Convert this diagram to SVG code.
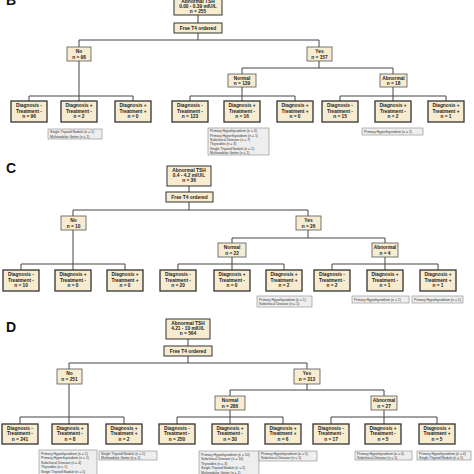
<svg xmlns="http://www.w3.org/2000/svg" width="474" height="474" viewBox="0 0 474 474">
<style>
.b{fill:#f7ecd0;stroke:#333;stroke-width:1.3}
.r{fill:#f7ecd0;stroke:#333;stroke-width:1}
.s{fill:#f7ecd0;stroke:#555;stroke-width:0.8}
.n{fill:#eeeeee;stroke:#888;stroke-width:0.6}
.t{font-family:"Liberation Sans",Arial,sans-serif;font-size:4.8px;font-weight:bold;text-anchor:middle;fill:#222}
.nt{font-family:"Liberation Sans",Arial,sans-serif;font-size:3.4px;fill:#333}
.lbl{font-family:"Liberation Sans",Arial,sans-serif;font-size:14px;font-weight:bold;fill:#111}
.c{stroke:#444;stroke-width:1;fill:none}
</style>
<rect width="474" height="474" fill="#fff"/>
<g id="connectors">
<path class="c" d="M198,15V23M198,33V40M79,40H319M79,40V47M319,40V47M79,61V101M29,96H133M29,96V101M133,96V101M319,61V68M242,68H393M242,68V74M393,68V74M242,87V101M190,96H295M190,96V101M295,96V101M393,87V101M340,96H446M340,96V101M446,96V101"/>
<path class="c" d="M189,186V192M189,202V210M73,210H308M73,210V216M308,210V216M73,230V270M21,264H125M21,264V270M125,264V270M308,230V238M232,238H385M232,238V243M385,238V243M232,257V270M178,264H284M178,264V270M284,264V270M385,257V270M332,264H438M332,264V270M438,264V270"/>
<path class="c" d="M188,339V346M188,356V363M69,363H307M69,363V369M307,363V369M69,384V424M20,417H124M20,417V424M124,417V424M307,384V390M230,390H384M230,390V396M384,390V396M230,410V424M177,417H283M177,417V424M283,417V424M384,410V424M331,417H437M331,417V424M437,417V424"/>
</g>
<g id="labels">
<text class="lbl" x="6" y="5">B</text>
<text class="lbl" x="6" y="173">C</text>
<text class="lbl" x="6" y="332">D</text>
</g>
<!-- Section B -->
<g id="B-root"><rect class="r" x="174" y="-5" width="48" height="20"/><text class="t" x="198" y="2.5">Abnormal TSH</text><text class="t" x="198" y="7.8">0.00 - 0.39 mIU/L</text><text class="t" x="198" y="13">n = 255</text></g>
<g id="B-ft4"><rect class="r" x="174" y="23" width="48" height="10"/><text class="t" x="198" y="29.8">Free T4 ordered</text></g>
<g id="B-no"><rect class="s" x="67" y="47" width="24" height="14"/><text class="t" x="79" y="53">No</text><text class="t" x="79" y="58.5">n = 98</text></g>
<g id="B-yes"><rect class="s" x="307" y="47" width="25" height="14"/><text class="t" x="319.5" y="53">Yes</text><text class="t" x="319.5" y="58.5">n = 157</text></g>
<g id="B-normal"><rect class="s" x="228" y="74" width="28" height="13"/><text class="t" x="242" y="79.5">Normal</text><text class="t" x="242" y="85">n = 139</text></g>
<g id="B-abnormal"><rect class="s" x="380" y="74" width="27" height="13"/><text class="t" x="393.5" y="79.5">Abnormal</text><text class="t" x="393.5" y="85">n = 18</text></g>
<g id="B-l1"><rect class="b" x="11" y="101" width="36" height="21"/><text class="t" x="29" y="107.3">Diagnosis -</text><text class="t" x="29" y="112.8">Treatment -</text><text class="t" x="29" y="118.4">n = 96</text></g>
<g id="B-l2"><rect class="b" x="61" y="101" width="36" height="21"/><text class="t" x="79" y="107.3">Diagnosis +</text><text class="t" x="79" y="112.8">Treatment -</text><text class="t" x="79" y="118.4">n = 2</text></g>
<g id="B-l3"><rect class="b" x="115" y="101" width="36" height="21"/><text class="t" x="133" y="107.3">Diagnosis +</text><text class="t" x="133" y="112.8">Treatment +</text><text class="t" x="133" y="118.4">n = 0</text></g>
<g id="B-l4"><rect class="b" x="172" y="101" width="36" height="21"/><text class="t" x="190" y="107.3">Diagnosis -</text><text class="t" x="190" y="112.8">Treatment -</text><text class="t" x="190" y="118.4">n = 123</text></g>
<g id="B-l5"><rect class="b" x="224" y="101" width="36" height="21"/><text class="t" x="242" y="107.3">Diagnosis +</text><text class="t" x="242" y="112.8">Treatment -</text><text class="t" x="242" y="118.4">n = 16</text></g>
<g id="B-l6"><rect class="b" x="277" y="101" width="36" height="21"/><text class="t" x="295" y="107.3">Diagnosis +</text><text class="t" x="295" y="112.8">Treatment +</text><text class="t" x="295" y="118.4">n = 0</text></g>
<g id="B-l7"><rect class="b" x="322" y="101" width="36" height="21"/><text class="t" x="340" y="107.3">Diagnosis -</text><text class="t" x="340" y="112.8">Treatment -</text><text class="t" x="340" y="118.4">n = 15</text></g>
<g id="B-l8"><rect class="b" x="375" y="101" width="36" height="21"/><text class="t" x="393" y="107.3">Diagnosis +</text><text class="t" x="393" y="112.8">Treatment -</text><text class="t" x="393" y="118.4">n = 2</text></g>
<g id="B-l9"><rect class="b" x="428" y="101" width="36" height="21"/><text class="t" x="446" y="107.3">Diagnosis +</text><text class="t" x="446" y="112.8">Treatment +</text><text class="t" x="446" y="118.4">n = 1</text></g>
<g id="B-n1"><rect class="n" x="48" y="129" width="54" height="10"/><text class="nt" x="50" y="133.3">Single Thyroid Nodule (n = 1)</text><text class="nt" x="50" y="137.6">Multinodular Goiter (n = 1)</text></g>
<g id="B-n2"><rect class="n" x="208" y="128" width="61" height="27"/><text class="nt" x="210" y="132.3">Primary Hypothyroidism (n = 3)</text><text class="nt" x="210" y="136.6">Primary Hyperthyroidism (n = 1)</text><text class="nt" x="210" y="140.9">Subclinical Disease (n = 7)</text><text class="nt" x="210" y="145.2">Thyroiditis (n = 3)</text><text class="nt" x="210" y="149.5">Single Thyroid Nodule (n = 1)</text><text class="nt" x="210" y="153.8">Multinodular Goiter (n = 1)</text></g>
<g id="B-n3"><rect class="n" x="362" y="128" width="61" height="7"/><text class="nt" x="364" y="132.6">Primary Hyperthyroidism (n = 2)</text></g>
<!-- Section C -->
<g id="C-root"><rect class="r" x="167" y="166" width="44" height="20"/><text class="t" x="189" y="171.7">Abnormal TSH</text><text class="t" x="189" y="176.9">0.4 - 4.2 mIU/L</text><text class="t" x="189" y="182.1">n = 36</text></g>
<g id="C-ft4"><rect class="r" x="166" y="192" width="47" height="10"/><text class="t" x="189.5" y="198.8">Free T4 ordered</text></g>
<g id="C-no"><rect class="s" x="61" y="216" width="25" height="14"/><text class="t" x="73.5" y="222">No</text><text class="t" x="73.5" y="227.5">n = 10</text></g>
<g id="C-yes"><rect class="s" x="296" y="216" width="25" height="14"/><text class="t" x="308.5" y="222">Yes</text><text class="t" x="308.5" y="227.5">n = 26</text></g>
<g id="C-normal"><rect class="s" x="218" y="243" width="28" height="14"/><text class="t" x="232" y="249">Normal</text><text class="t" x="232" y="254.5">n = 22</text></g>
<g id="C-abnormal"><rect class="s" x="372" y="243" width="26" height="14"/><text class="t" x="385" y="249">Abnormal</text><text class="t" x="385" y="254.5">n = 4</text></g>
<g id="C-l1"><rect class="b" x="3" y="270" width="36" height="21"/><text class="t" x="21" y="276.3">Diagnosis -</text><text class="t" x="21" y="281.8">Treatment -</text><text class="t" x="21" y="287.4">n = 10</text></g>
<g id="C-l2"><rect class="b" x="55" y="270" width="36" height="21"/><text class="t" x="73" y="276.3">Diagnosis +</text><text class="t" x="73" y="281.8">Treatment -</text><text class="t" x="73" y="287.4">n = 0</text></g>
<g id="C-l3"><rect class="b" x="107" y="270" width="36" height="21"/><text class="t" x="125" y="276.3">Diagnosis +</text><text class="t" x="125" y="281.8">Treatment +</text><text class="t" x="125" y="287.4">n = 0</text></g>
<g id="C-l4"><rect class="b" x="160" y="270" width="36" height="21"/><text class="t" x="178" y="276.3">Diagnosis -</text><text class="t" x="178" y="281.8">Treatment -</text><text class="t" x="178" y="287.4">n = 20</text></g>
<g id="C-l5"><rect class="b" x="214" y="270" width="36" height="21"/><text class="t" x="232" y="276.3">Diagnosis +</text><text class="t" x="232" y="281.8">Treatment -</text><text class="t" x="232" y="287.4">n = 0</text></g>
<g id="C-l6"><rect class="b" x="266" y="270" width="36" height="21"/><text class="t" x="284" y="276.3">Diagnosis +</text><text class="t" x="284" y="281.8">Treatment +</text><text class="t" x="284" y="287.4">n = 2</text></g>
<g id="C-l7"><rect class="b" x="314" y="270" width="36" height="21"/><text class="t" x="332" y="276.3">Diagnosis -</text><text class="t" x="332" y="281.8">Treatment -</text><text class="t" x="332" y="287.4">n = 2</text></g>
<g id="C-l8"><rect class="b" x="367" y="270" width="36" height="21"/><text class="t" x="385" y="276.3">Diagnosis +</text><text class="t" x="385" y="281.8">Treatment -</text><text class="t" x="385" y="287.4">n = 1</text></g>
<g id="C-l9"><rect class="b" x="420" y="270" width="36" height="21"/><text class="t" x="438" y="276.3">Diagnosis +</text><text class="t" x="438" y="281.8">Treatment +</text><text class="t" x="438" y="287.4">n = 1</text></g>
<g id="C-n1"><rect class="n" x="257" y="296" width="55" height="11"/><text class="nt" x="259" y="300.5">Primary Hypothyroidism (n = 1)</text><text class="nt" x="259" y="305">Subclinical Disease (n = 1)</text></g>
<g id="C-n2"><rect class="n" x="352" y="296" width="57" height="7"/><text class="nt" x="354" y="300.6">Primary Hypothyroidism (n = 1)</text></g>
<g id="C-n3"><rect class="n" x="412" y="296" width="51" height="7"/><text class="nt" x="414" y="300.6">Primary Hypothyroidism (n = 1)</text></g>
<!-- Section D -->
<g id="D-root"><rect class="r" x="166" y="319" width="44" height="20"/><text class="t" x="188" y="324.7">Abnormal TSH</text><text class="t" x="188" y="329.9">4.21 - 10 mIU/L</text><text class="t" x="188" y="335.1">n = 564</text></g>
<g id="D-ft4"><rect class="r" x="164" y="346" width="48" height="10"/><text class="t" x="188" y="352.8">Free T4 ordered</text></g>
<g id="D-no"><rect class="s" x="57" y="369" width="25" height="15"/><text class="t" x="69.5" y="375.3">No</text><text class="t" x="69.5" y="381">n = 251</text></g>
<g id="D-yes"><rect class="s" x="294" y="369" width="26" height="15"/><text class="t" x="307" y="375.3">Yes</text><text class="t" x="307" y="381">n = 313</text></g>
<g id="D-normal"><rect class="s" x="215" y="396" width="30" height="14"/><text class="t" x="230" y="402">Normal</text><text class="t" x="230" y="407.5">n = 286</text></g>
<g id="D-abnormal"><rect class="s" x="371" y="396" width="26" height="14"/><text class="t" x="384" y="402">Abnormal</text><text class="t" x="384" y="407.5">n = 27</text></g>
<g id="D-l1"><rect class="b" x="2" y="424" width="36" height="20"/><text class="t" x="20" y="430">Diagnosis -</text><text class="t" x="20" y="435.4">Treatment -</text><text class="t" x="20" y="440.8">n = 241</text></g>
<g id="D-l2"><rect class="b" x="52" y="424" width="36" height="20"/><text class="t" x="70" y="430">Diagnosis +</text><text class="t" x="70" y="435.4">Treatment -</text><text class="t" x="70" y="440.8">n = 8</text></g>
<g id="D-l3"><rect class="b" x="106" y="424" width="36" height="20"/><text class="t" x="124" y="430">Diagnosis +</text><text class="t" x="124" y="435.4">Treatment +</text><text class="t" x="124" y="440.8">n = 2</text></g>
<g id="D-l4"><rect class="b" x="159" y="424" width="36" height="20"/><text class="t" x="177" y="430">Diagnosis -</text><text class="t" x="177" y="435.4">Treatment -</text><text class="t" x="177" y="440.8">n = 250</text></g>
<g id="D-l5"><rect class="b" x="212" y="424" width="36" height="20"/><text class="t" x="230" y="430">Diagnosis +</text><text class="t" x="230" y="435.4">Treatment -</text><text class="t" x="230" y="440.8">n = 30</text></g>
<g id="D-l6"><rect class="b" x="265" y="424" width="36" height="20"/><text class="t" x="283" y="430">Diagnosis +</text><text class="t" x="283" y="435.4">Treatment +</text><text class="t" x="283" y="440.8">n = 6</text></g>
<g id="D-l7"><rect class="b" x="313" y="424" width="36" height="20"/><text class="t" x="331" y="430">Diagnosis -</text><text class="t" x="331" y="435.4">Treatment -</text><text class="t" x="331" y="440.8">n = 17</text></g>
<g id="D-l8"><rect class="b" x="365" y="424" width="36" height="20"/><text class="t" x="383" y="430">Diagnosis +</text><text class="t" x="383" y="435.4">Treatment -</text><text class="t" x="383" y="440.8">n = 5</text></g>
<g id="D-l9"><rect class="b" x="419" y="424" width="36" height="20"/><text class="t" x="437" y="430">Diagnosis +</text><text class="t" x="437" y="435.4">Treatment +</text><text class="t" x="437" y="440.8">n = 5</text></g>
<g id="D-n1"><rect class="n" x="39" y="450" width="58" height="26"/><text class="nt" x="41" y="454.5">Primary Hypothyroidism (n = 1)</text><text class="nt" x="41" y="459">Primary Hyperthyroidism (n = 1)</text><text class="nt" x="41" y="463.5">Subclinical Disease (n = 4)</text><text class="nt" x="41" y="468">Thyroiditis (n = 1)</text><text class="nt" x="41" y="472.5">Single Thyroid Nodule (n = 1)</text></g>
<g id="D-n2"><rect class="n" x="99" y="451" width="58" height="9"/><text class="nt" x="101" y="455">Single Thyroid Nodule (n = 1)</text><text class="nt" x="101" y="459">Multinodular Goiter (n = 1)</text></g>
<g id="D-n3"><rect class="n" x="199" y="451" width="60" height="25"/><text class="nt" x="201" y="455.5">Primary Hypothyroidism (n = 10)</text><text class="nt" x="201" y="460">Subclinical Disease (n = 14)</text><text class="nt" x="201" y="464.5">Thyroiditis (n = 3)</text><text class="nt" x="201" y="469">Single Thyroid Nodule (n = 2)</text><text class="nt" x="201" y="473.5">Multinodular Goiter (n = 1)</text></g>
<g id="D-n4"><rect class="n" x="259" y="451" width="58" height="10"/><text class="nt" x="261" y="455">Primary Hypothyroidism (n = 5)</text><text class="nt" x="261" y="459.3">Subclinical Disease (n = 1)</text></g>
<g id="D-n5"><rect class="n" x="355" y="451" width="57" height="9"/><text class="nt" x="357" y="455">Primary Hypothyroidism (n = 4)</text><text class="nt" x="357" y="459">Subclinical Disease (n = 1)</text></g>
<g id="D-n6"><rect class="n" x="417" y="451" width="54" height="9"/><text class="nt" x="419" y="455">Primary Hypothyroidism (n = 4)</text><text class="nt" x="419" y="459">Single Thyroid Nodule (n = 1)</text></g>
</svg>
